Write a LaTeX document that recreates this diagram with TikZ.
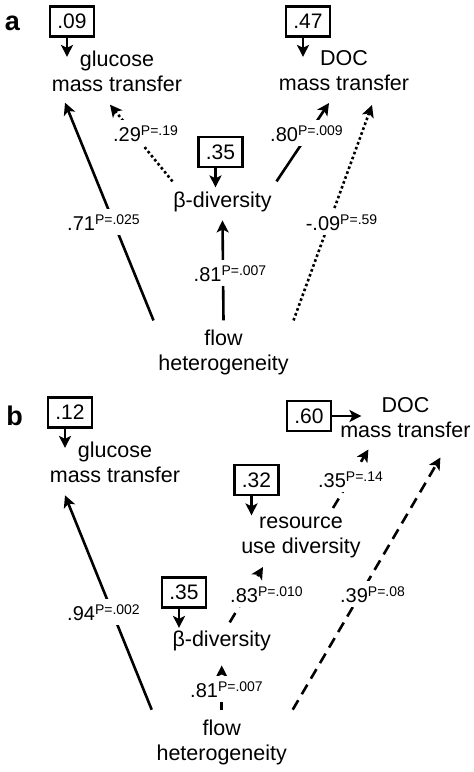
\documentclass[tikz,border=0pt]{standalone}
\usepackage{fontspec}
\setmainfont{Liberation Sans}
\usetikzlibrary{arrows.meta}

\newcommand{\pval}[2]{#1\raisebox{6pt}{\fontsize{14}{14}\selectfont P=#2}}

\begin{document}
\begin{tikzpicture}[x=1pt,y=-1pt,line width=2.6pt,>={Stealth[length=12pt,width=12pt,inset=3pt]},
  var/.style={align=center,inner sep=0pt,font=\fontsize{21.5}{25}\selectfont},
  rbox/.style={draw,line width=2.8pt,minimum width=44pt,minimum height=30pt,inner sep=0pt,font=\fontsize{21}{21}\selectfont},
  lbl/.style={fill=white,anchor=base,inner xsep=2pt,inner ysep=5pt,font=\fontsize{20}{20}\selectfont},
  panel/.style={anchor=base,font=\fontsize{27}{27}\selectfont\bfseries},
  dots/.style={dash pattern=on 2.6pt off 2.6pt},
  dsh/.style={dash pattern=on 11pt off 7pt}]
  \useasboundingbox (0,0) rectangle (474,772);

  % panel a
  \node[panel] (tagA) at (12.5,30) {a};
  \node[rbox] (r2gA) at (72,21.5) {.09};
  \node[var] (glucA) at (117,71.7) {glucose\\mass transfer};
  \node[rbox] (r2dA) at (308,21.5) {.47};
  \node[var] (docA) at (344,71) {DOC\\mass transfer};
  \node[rbox] (r2bA) at (220.5,152) {.35};
  \node[var] (betaA) at (222.5,202.4) {β-diversity};
  \node[var] (flowA) at (223.5,352.4) {flow\\heterogeneity};

  \draw[->] ([xshift=-5pt]r2gA.south) -- ++(0,19);
  \draw[->] ([xshift=-5pt]r2dA.south) -- ++(0,19);
  \draw[->] ([xshift=-5pt]r2bA.south) -- ++(0,19);

  \draw[->] ([shift={(-70,-32)}]flowA.center) -- ([shift={(-52,31)}]glucA.center);
  \draw[->,dots] ([shift={(-50,-21)}]betaA.center) -- ([shift={(-7,33)}]glucA.center);
  \draw[->] ([shift={(54,-21)}]betaA.center) -- ([shift={(-15,32)}]docA.center);
  \draw[->,dots] ([shift={(70,-32)}]flowA.center) -- ([shift={(28,34)}]docA.center);
  \draw[->] ([shift={(0,-32)}]flowA.center) -- ([shift={(0,18)}]betaA.center);

  \node[lbl] (cA1) at (103.5,230) {\pval{.71}{.025}};
  \node[lbl] (cA2) at (145.5,141) {\pval{.29}{.19}};
  \node[lbl] (cA3) at (306.5,141) {\pval{.80}{.009}};
  \node[lbl] (cA4) at (341.5,230) {\pval{-.09}{.59}};
  \node[lbl] (cA5) at (230,281) {\pval{.81}{.007}};

  % panel b
  \node[panel] (tagB) at (14.5,425) {b};
  \node[rbox] (r2gB) at (70,412.5) {.12};
  \node[var] (glucB) at (115,462.3) {glucose\\mass transfer};
  \node[rbox] (r2dB) at (309,416) {.60};
  \node[var] (docB) at (405.4,417.5) {DOC\\mass transfer};
  \node[rbox] (r2rB) at (256.5,480) {.32};
  \node[var] (resB) at (301,537) {resource\\use diversity};
  \node[rbox] (r2bB) at (184,592.5) {.35};
  \node[var] (betaB) at (221.7,641.4) {β-diversity};
  \node[var] (flowB) at (221.7,742.7) {flow\\heterogeneity};

  \draw[->] ([xshift=-5pt]r2gB.south) -- ++(0,19);
  \draw[->] (r2dB.east) -- ++(29,0);
  \draw[->] ([xshift=-5pt]r2rB.south) -- ++(0,19);
  \draw[->] ([xshift=-5pt]r2bB.south) -- ++(0,19);

  \draw[->] ([shift={(-70,-33)}]flowB.center) -- ([shift={(-50,33)}]glucB.center);
  \draw[->,dsh] ([shift={(0,-33)}]flowB.center) -- ([shift={(0,24)}]betaB.center);
  \draw[->,dsh] ([shift={(8,-19)}]betaB.center) -- ([shift={(-38,30)}]resB.center);
  \draw[->,dsh] ([shift={(32,-29)}]resB.center) -- ([shift={(-37,32)}]docB.center);
  \draw[->,dsh] ([shift={(71,-33)}]flowB.center) -- ([shift={(35,40)}]docB.center);

  \node[lbl] (cB1) at (103.5,620) {\pval{.94}{.002}};
  \node[lbl] (cB2) at (226.5,697) {\pval{.81}{.007}};
  \node[lbl] (cB3) at (266.5,602) {\pval{.83}{.010}};
  \node[lbl] (cB4) at (350.5,487) {\pval{.35}{.14}};
  \node[lbl] (cB5) at (372.5,602) {\pval{.39}{.08}};
\end{tikzpicture}
\end{document}
